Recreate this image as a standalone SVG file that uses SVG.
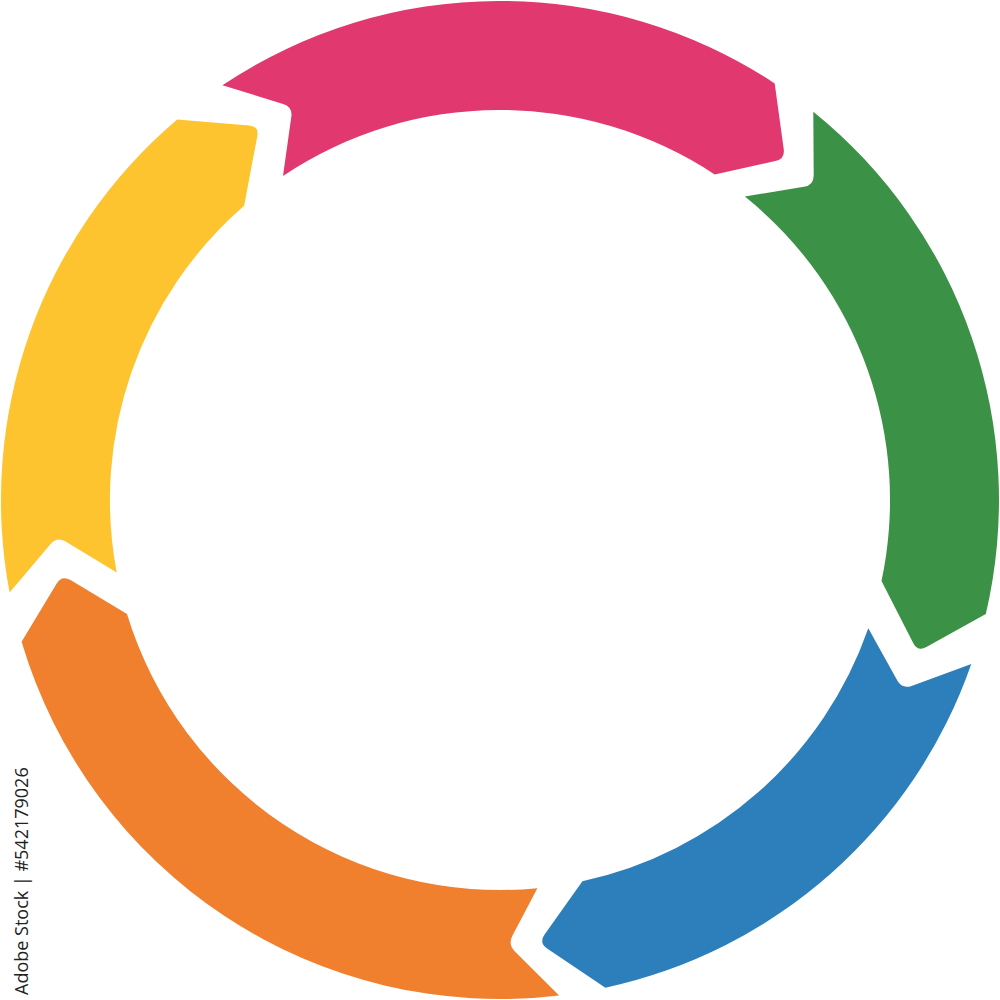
<svg xmlns="http://www.w3.org/2000/svg" width="1000" height="1000" viewBox="0 0 1000 1000">
<style>
.seg{stroke:none}
.pink{fill:#E13870}
.green{fill:#3B9145}
.blue{fill:#2D7FBB}
.orange{fill:#F07F2E}
.yellow{fill:#FEC42F}
.credit{font-family:"Open Sans","DejaVu Sans",sans-serif;font-size:18px;fill:#222}
</style>
<rect width="1000" height="1000" fill="#ffffff"/>
<g id="pink-segment">
<path class="seg pink" d="M222.4,85.3 A499,499 0 0 1 774.7,83.4 L783.7,149.1 Q785.1,159.0 775.3,161.1 L714.7,174.4 A390,390 0 0 0 283.0,175.9 L291.3,116.7 Q292.7,106.8 283.1,103.9 Z"/>
</g>
<g id="green-segment">
<path class="seg green" d="M813.3,111.7 A499,499 0 0 1 985.8,614.0 L926.4,647.1 Q917.7,652.0 913.2,643.1 L881.5,581.1 A390,390 0 0 0 744.9,196.5 L803.9,186.8 Q813.8,185.2 813.7,175.2 Z"/>
</g>
<g id="blue-segment">
<path class="seg blue" d="M971.3,664.1 A499,499 0 0 1 605.4,987.7 L547.1,948.4 Q538.8,942.8 544.6,934.6 L582.4,881.2 A390,390 0 0 0 868.3,628.3 L897.3,680.6 Q902.2,689.3 911.6,685.9 Z"/>
</g>
<g id="orange-segment">
<path class="seg orange" d="M559.1,995.5 A499,499 0 0 1 21.6,641.7 L56.7,583.5 Q61.9,574.9 70.5,580.1 L127.0,614.0 A390,390 0 0 0 537.4,888.2 L512.5,935.5 Q507.8,944.4 514.9,951.5 Z"/>
</g>
<g id="yellow-segment">
<path class="seg yellow" d="M9.6,592.6 A499,499 0 0 1 177.2,119.5 L249.2,125.6 Q259.2,126.4 257.3,136.2 L244.1,205.7 A390,390 0 0 0 116.7,572.4 L65.6,541.6 Q57.0,536.4 50.6,544.0 Z"/>
</g>
<g id="connectors"></g>
<text class="credit" transform="translate(28,995) rotate(-90)">Adobe Stock | #542179026</text>
</svg>
